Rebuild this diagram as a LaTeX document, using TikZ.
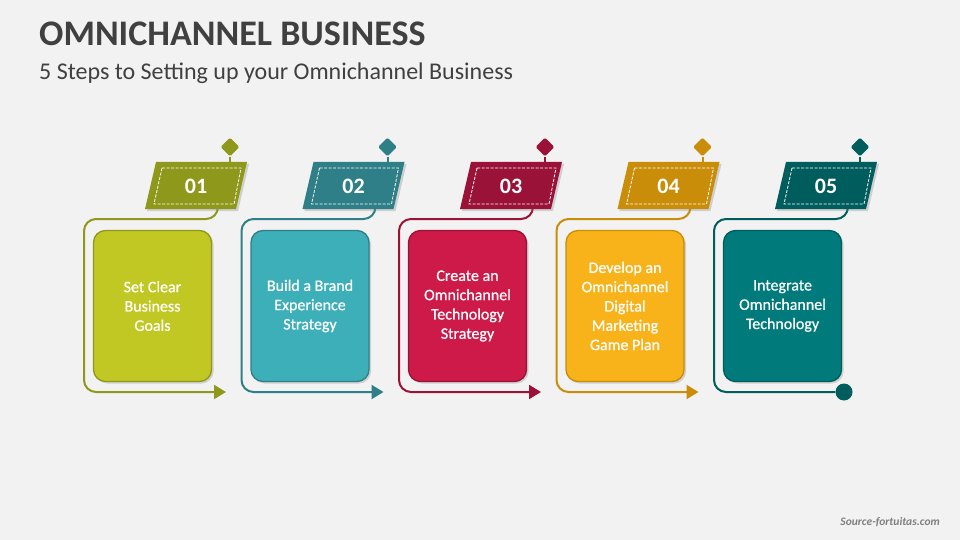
\documentclass[tikz,border=0pt]{standalone}
\usepackage{fontspec}
\setmainfont{Carlito}
\newfontfamily\cardfont{Carlito}[FakeBold=0.6]
\usetikzlibrary{shapes.geometric,arrows.meta,shadows,calc}
\definecolor{bg}{HTML}{F2F2F2}
\definecolor{titlec}{HTML}{404040}
\definecolor{c1}{HTML}{C2C823}\definecolor{d1}{HTML}{8E981B}
\definecolor{c2}{HTML}{3DAFB8}\definecolor{d2}{HTML}{2E7F87}
\definecolor{c3}{HTML}{CE1A48}\definecolor{d3}{HTML}{9A1238}
\definecolor{c4}{HTML}{F8B21A}\definecolor{d4}{HTML}{C98D0A}
\definecolor{c5}{HTML}{007A7A}\definecolor{d5}{HTML}{005D5D}
\tikzset{
  cardbox/.style={rounded corners=12pt, minimum width=118pt, minimum height=151pt,
    line width=1.3pt, align=center, text=white, inner sep=2pt,
    font=\cardfont\fontsize{16}{19.3}\selectfont,
    drop shadow={opacity=0.3, shadow xshift=2pt, shadow yshift=-2pt}},
  numtxt/.style={text=white, font=\fontsize{22}{24}\selectfont\bfseries, inner sep=0pt},
  link/.style={line width=2pt, rounded corners=12pt},
  dia/.style={diamond, minimum size=19pt, inner sep=0pt, rounded corners=1.5pt}
}
\begin{document}
\begin{tikzpicture}[x=1pt,y=-1pt]
\fill[bg] (0,0) rectangle (960,540);
\useasboundingbox (0,0) rectangle (960,540);
\node[anchor=base west, inner sep=0pt, text=titlec, font=\fontsize{36}{40}\selectfont\bfseries] (title) at (39,46) {OMNICHANNEL BUSINESS};
\node[anchor=base west, inner sep=0pt, text=titlec, font=\fontsize{24}{27}\selectfont] (subtitle) at (39,80) {5 Steps to Setting up your Omnichannel Business};
\node[anchor=base east, inner sep=0pt, text=gray, font=\fontsize{11.5}{13}\selectfont\bfseries\itshape] (src) at (940,525) {Source-fortuitas.com};
\foreach \i/\cl/\dk/\txt in {
  1/c1/d1/{Set Clear\\Business\\Goals},
  2/c2/d2/{Build a Brand\\Experience\\Strategy},
  3/c3/d3/{Create an\\Omnichannel\\Technology\\Strategy},
  4/c4/d4/{Develop an\\Omnichannel\\Digital\\Marketing\\Game Plan},
  5/c5/d5/{Integrate\\Omnichannel\\Technology}}{
  \pgfmathsetmacro\dx{(\i-1)*157.5}
  \begin{scope}[shift={(\dx,0)}]
    \coordinate (start\i) at (218,205);
    \coordinate (stem\i) at (230,162);
    \node[cardbox, fill=\cl, draw=\dk] (card\i) at (152.5,306) {\txt};
    \ifnum\i<5
      \coordinate (end\i) at (226,392);
      \draw[link, draw=\dk, -{Triangle[length=12pt,width=14pt]}] (start\i) |- (84,219) |- (end\i);
    \else
      \node[circle, fill=\dk, minimum size=17pt, inner sep=0pt] (end\i) at (214,392) {};
      \draw[link, draw=\dk] (start\i) |- (84,219) |- (end\i.west);
    \fi
    \fill[\dk, drop shadow={opacity=0.3, shadow xshift=2pt, shadow yshift=-2pt}] (156,162) -- (247,162) -- (236,209) -- (145,209) -- cycle;
    \draw[white, dashed, line width=0.8pt, dash pattern=on 3pt off 1.5pt] (162,168) -- (241,168) -- (234,204) -- (154,204) -- cycle;
    \node[numtxt] (tag\i) at (196,186) {0\i};
    \node[dia, fill=\dk] (dia\i) at (230,147) {};
    \draw[\dk, line width=2pt] (dia\i.south) -- (stem\i);
  \end{scope}
}
\end{tikzpicture}
\end{document}
